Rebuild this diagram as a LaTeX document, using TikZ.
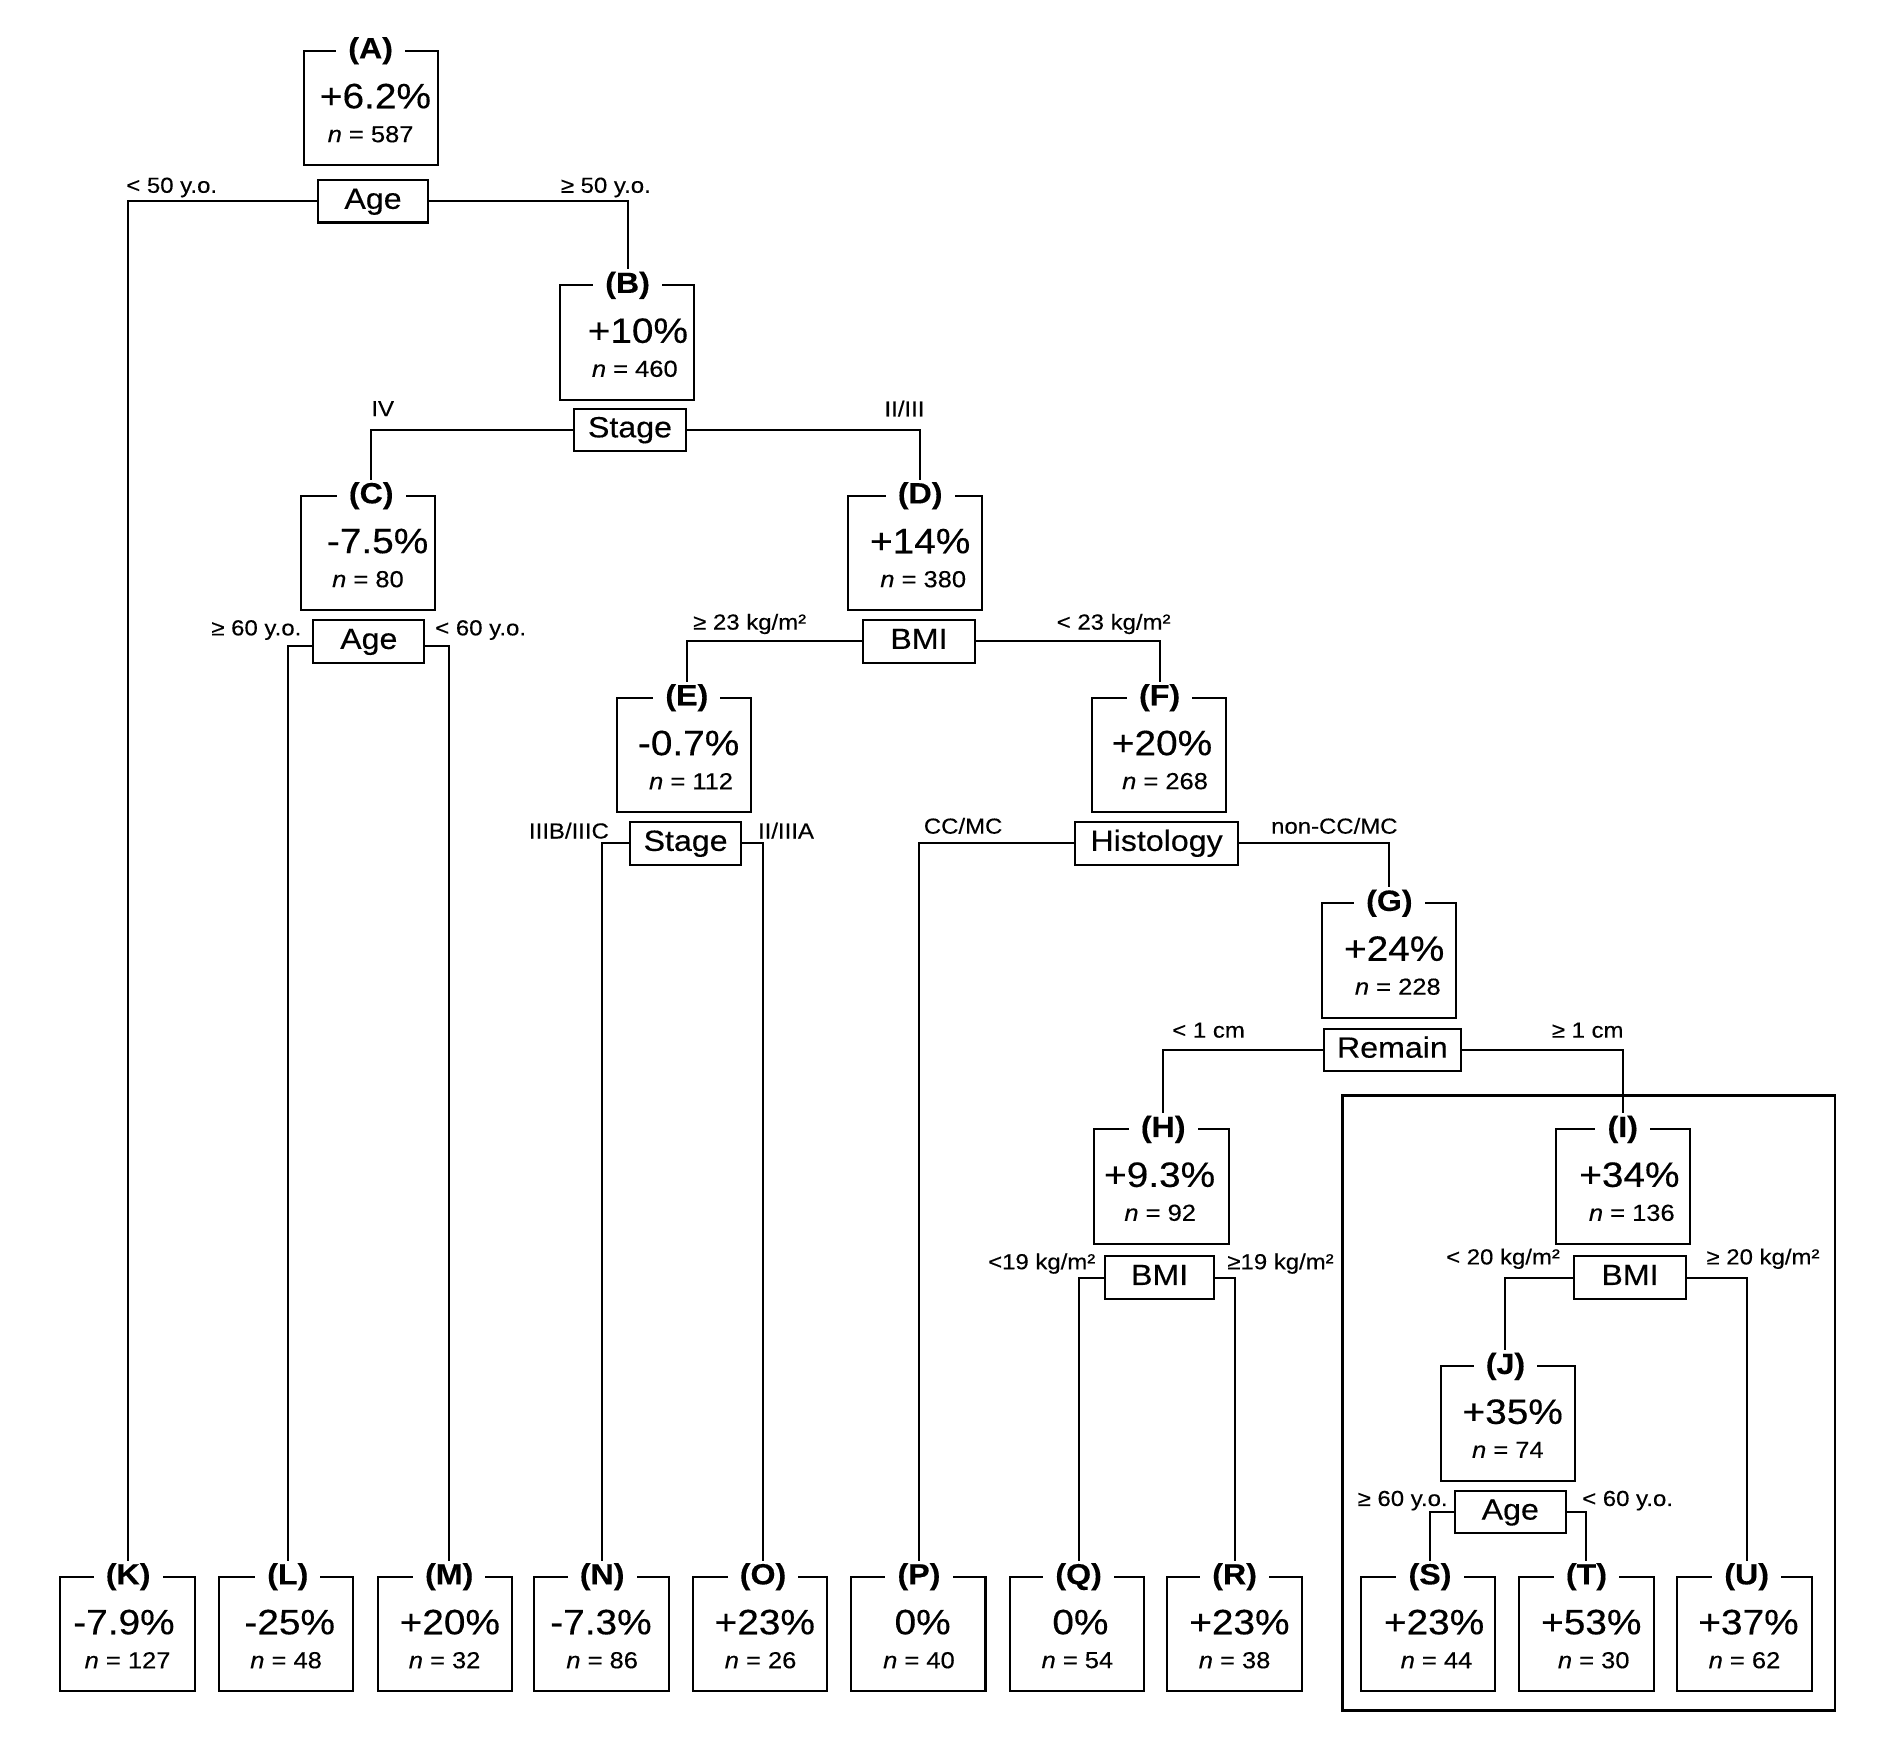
\documentclass[tikz,border=0pt]{standalone}
\usepackage{fontspec}
\setmainfont{Liberation Sans}[FakeStretch=1.1, FakeBold=0.35]
\begin{document}
\begin{tikzpicture}[x=0.6pt,y=-0.6pt,
  box/.style={draw, line width=1pt, minimum width=66.6pt, minimum height=56.7pt, inner sep=0pt},
  lbl/.style={fill=white, font=\fontsize{14.5}{16}\selectfont\bfseries, inner xsep=6pt, inner ysep=1pt},
  pct/.style={font=\fontsize{17.5}{20}\selectfont, inner sep=0pt},
  cnt/.style={font=\fontsize{11.5}{13}\selectfont, inner sep=0pt},
  split/.style={draw, fill=white, line width=1pt, minimum height=21pt, inner sep=0pt, text height=0.74em, text depth=0pt, font=\fontsize{14.5}{16}\selectfont},
  brl/.style={font=\fontsize{10.8}{12}\selectfont, inner sep=0pt},
  edge/.style={line width=1pt},
  frame/.style={draw, line width=1.3pt, inner sep=0pt}]
\path[use as bounding box] (0,0) rectangle (1568,1441);
% #1 name, #2 cx, #3 top, #4 label x, #5 pct, #6 dx pct, #7 n, #8 dx n
\newcommand\tn[8]{%
  \node[box] (#1) at (#2,#3+47.25) {};
  \node[pct] (#1p) at (#2+#6,#3+37.5) {#5};
  \node[cnt] (#1n) at (#2+#8,#3+69) {\textit{n} = #7};
  \node[lbl] (#1l) at (#4,#3) {(#1)};}
% outer frame
\node[frame, minimum width=407.5*0.6pt, minimum height=508.7*0.6pt] (outer) at (1313.75,1160.35) {};
% internal nodes
\tn{A}{306.5}{42}{306.5}{+6.2\%}{4}{587}{0}
\tn{B}{518.5}{236}{519}{+10\%}{9}{460}{6.5}
\tn{C}{304.3}{410}{307}{-7.5\%}{8}{80}{0}
\tn{D}{756.5}{410}{761}{+14\%}{4.5}{380}{7}
\tn{E}{565.5}{577}{568}{-0.7\%}{4}{112}{6}
\tn{F}{958.5}{577}{959}{+20\%}{2.5}{268}{5}
\tn{G}{1148.5}{747}{1149}{+24\%}{4.5}{228}{7.5}
\tn{H}{960.5}{934}{962}{+9.3\%}{-1.5}{92}{-1}
\tn{I}{1342.5}{934}{1342}{+34\%}{5}{136}{7}
\tn{J}{1247}{1130}{1245}{+35\%}{4}{74}{0}
% leaves
\tn{K}{105.5}{1304}{106}{-7.9\%}{-3}{127}{0}
\tn{L}{236.6}{1304}{238}{-25\%}{3}{48}{0}
\tn{M}{367.7}{1304}{371.5}{+20\%}{4.3}{32}{0}
\tn{N}{497.5}{1304}{498}{-7.3\%}{-0.5}{86}{0.5}
\tn{O}{628.5}{1304}{631}{+23\%}{4}{26}{0.5}
\tn{P}{759.5}{1304}{760}{0\%}{3.5}{40}{0.5}
\tn{Q}{890.5}{1304}{892}{0\%}{3}{54}{0.5}
\tn{R}{1021}{1304}{1021}{+23\%}{4}{38}{0}
\tn{S}{1181}{1304}{1182.6}{+23\%}{5}{44}{7}
\tn{T}{1312}{1304}{1312}{+53\%}{4}{30}{6}
\tn{U}{1442.7}{1304}{1444.5}{+37\%}{3.3}{62}{0}
% split boxes
\node[split, minimum width=91*0.6pt] (sA) at (308.5,166.5) {Age};
\node[split, minimum width=92*0.6pt] (sB) at (521,355.5) {Stage};
\node[split, minimum width=92*0.6pt] (sC) at (305,530.5) {Age};
\node[split, minimum width=92*0.6pt] (sD) at (760,530.5) {BMI};
\node[split, minimum width=92*0.6pt] (sE) at (567,697.5) {Stage};
\node[split, minimum width=135*0.6pt] (sF) at (956.5,697.5) {Histology};
\node[split, minimum width=113*0.6pt] (sG) at (1151.5,868.5) {Remain};
\node[split, minimum width=90*0.6pt] (sH) at (959,1056.5) {BMI};
\node[split, minimum width=92*0.6pt] (sI) at (1348,1056.5) {BMI};
\node[split, minimum width=92*0.6pt] (sJ) at (1249,1250.5) {Age};
% connectors
\draw[edge] (sA.west) -| (Kl.north);
\draw[edge] (sA.east) -| (Bl.north);
\draw[edge] (sB.west) -| (Cl.north);
\draw[edge] (sB.east) -| (Dl.north);
\draw[edge] ([yshift=-2pt]sC.west) -| (Ll.north);
\draw[edge] ([yshift=-2pt]sC.east) -| (Ml.north);
\draw[edge] (sD.west) -| (El.north);
\draw[edge] (sD.east) -| (Fl.north);
\draw[edge] (sE.west) -| (Nl.north);
\draw[edge] (sE.east) -| (Ol.north);
\draw[edge] (sF.west) -| (Pl.north);
\draw[edge] (sF.east) -| (Gl.north);
\draw[edge] (sG.west) -| (Hl.north);
\draw[edge] (sG.east) -| (Il.north);
\draw[edge] (sH.west) -| (Ql.north);
\draw[edge] (sH.east) -| (Rl.north);
\draw[edge] (sI.west) -| (Jl.north);
\draw[edge] (sI.east) -| (Ul.north);
\draw[edge] (sJ.west) -| (Sl.north);
\draw[edge] (sJ.east) -| (Tl.north);
% branch labels
\node[brl] (bA1) at (142,155) {< 50 y.o.};
\node[brl] (bA2) at (501,155) {≥ 50 y.o.};
\node[brl] (bB1) at (316.5,338) {IV};
\node[brl] (bB2) at (748,338) {II/III};
\node[brl] (bC1) at (212,521) {≥ 60 y.o.};
\node[brl] (bC2) at (397.5,521) {< 60 y.o.};
\node[brl] (bD1) at (620,516) {≥ 23 kg/m²};
\node[brl] (bD2) at (921,516) {< 23 kg/m²};
\node[brl] (bE1) at (470.5,687) {IIIB/IIIC};
\node[brl] (bE2) at (650,687) {II/IIIA};
\node[brl] (bF1) at (796.5,683) {CC/MC};
\node[brl] (bF2) at (1103.5,683) {non-CC/MC};
\node[brl] (bG1) at (999.5,852) {< 1 cm};
\node[brl] (bG2) at (1313,852) {≥ 1 cm};
\node[brl] (bH1) at (861.5,1045) {<19 kg/m²};
\node[brl] (bH2) at (1059,1045) {≥19 kg/m²};
\node[brl] (bI1) at (1243,1041) {< 20 kg/m²};
\node[brl] (bI2) at (1458,1041) {≥ 20 kg/m²};
\node[brl] (bJ1) at (1160,1241) {≥ 60 y.o.};
\node[brl] (bJ2) at (1346,1241) {< 60 y.o.};
\end{tikzpicture}
\end{document}
